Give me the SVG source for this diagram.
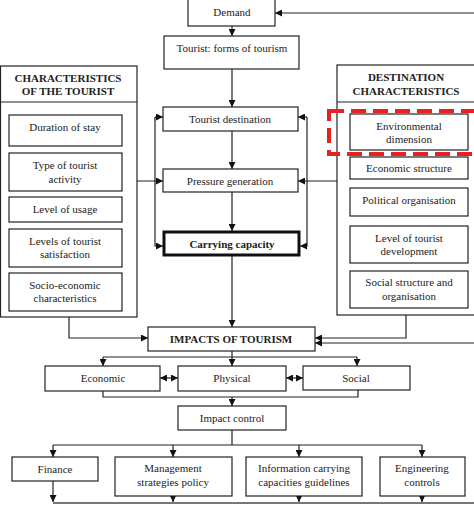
<svg xmlns="http://www.w3.org/2000/svg" width="474" height="505" viewBox="0 0 474 505">
<style>
.b{fill:#fff;stroke:#222;stroke-width:1.2}
.t{font-family:"Liberation Serif","Times New Roman",serif;font-size:11px;fill:#222;text-anchor:middle}
.h{font-weight:bold}
.l{fill:none;stroke:#222;stroke-width:1.2}
.a{marker-end:url(#ar)}
</style>
<defs>
<marker id="ar" viewBox="0 0 8 8" refX="8" refY="4" markerWidth="7" markerHeight="7" markerUnits="userSpaceOnUse" orient="auto-start-reverse">
<path d="M0,0 L8,4 L0,8 z" fill="#111"/>
</marker>
</defs>
<rect width="474" height="505" fill="#fff"/>
<g id="connectors">
<path class="l a" d="M232,26 V36"/>
<path class="l a" d="M232,69 V107"/>
<path class="l a" d="M232,131 V169"/>
<path class="l a" d="M232,192 V231"/>
<path class="l a" d="M232,256 V327"/>
<path class="l" d="M122,131 H129 M122,172 H129 M122,210 H129 M122,248 H129 M122,291 H129 M129,131 V291"/>
<path class="l a" d="M129,181 H163"/>
<path class="l a" d="M155,117 H163"/>
<path class="l a" d="M155,117 V246 H163"/>
<path class="l" d="M350,131 H342 M350,168 H342 M350,202 H342 M350,244 H342 M350,290 H342 M342,131 V290"/>
<path class="l a" d="M342,181 H298"/>
<path class="l a" d="M307,117 H298"/>
<path class="l a" d="M307,117 V246 H300"/>
<path class="l a" d="M69,317 V338 H148"/>
<path class="l a" d="M406,315 V338 H315"/>
<path class="l a" d="M477,343 H315"/>
<path class="l a" d="M477,343 V13 H275"/>
<path fill="none" stroke="#777" stroke-width="2" d="M53,503 H477 V343"/>
<path class="l" d="M103,357 H357 M232,351 V357"/>
<path class="l a" d="M103,357 V366"/>
<path class="l a" d="M232,357 V366"/>
<path class="l a" d="M357,357 V366"/>
<path class="l a" d="M160,378 H178" marker-start="url(#ar)"/>
<path class="l a" d="M286,378 H303" marker-start="url(#ar)"/>
<path class="l" d="M103,391 V397 H358 V390"/>
<path class="l a" d="M232,397 V406"/>
<path class="l" d="M232,430 V445 M53,445 H422"/>
<path class="l a" d="M53,445 V457"/>
<path class="l a" d="M173,445 V457"/>
<path class="l a" d="M299,445 V457"/>
<path class="l a" d="M422,445 V457"/>
<path class="l a" d="M53,481 V502"/>
<path class="l a" d="M173,496 V502"/>
<path class="l a" d="M299,496 V502"/>
<path class="l a" d="M422,496 V502"/>
</g>
<g id="demand"><rect class="b" x="188" y="-2" width="87" height="28"/><text class="t" x="232" y="16">Demand</text></g>
<g id="tourist-forms"><rect class="b" x="164" y="36" width="135" height="33"/><text class="t" x="232" y="52">Tourist: forms of tourism</text></g>
<g id="char-tourist">
<rect class="b" x="0.5" y="66" width="136.5" height="251"/>
<line class="l" x1="0" y1="102" x2="137" y2="102"/>
<text class="t h" x="68" y="82">CHARACTERISTICS</text>
<text class="t h" x="68" y="95">OF THE TOURIST</text>
</g>
<g id="duration"><rect class="b" x="9" y="115" width="113" height="31"/><text class="t" x="65" y="131">Duration of stay</text></g>
<g id="type-activity"><rect class="b" x="9" y="153" width="113" height="38"/><text class="t" x="65" y="169">Type of tourist</text><text class="t" x="65" y="183">activity</text></g>
<g id="level-usage"><rect class="b" x="9" y="197" width="113" height="25"/><text class="t" x="65" y="213">Level of usage</text></g>
<g id="satisfaction"><rect class="b" x="9" y="229" width="113" height="38"/><text class="t" x="65" y="245">Levels of tourist</text><text class="t" x="65" y="258">satisfaction</text></g>
<g id="socio-economic"><rect class="b" x="9" y="273" width="113" height="38"/><text class="t" x="65" y="289">Socio-economic</text><text class="t" x="65" y="302">characteristics</text></g>
<g id="tourist-destination"><rect class="b" x="163" y="107" width="135" height="24"/><text class="t" x="230" y="123">Tourist destination</text></g>
<g id="pressure"><rect class="b" x="163" y="169" width="135" height="23"/><text class="t" x="230" y="185">Pressure generation</text></g>
<g id="carrying"><rect x="164" y="232" width="135" height="23" fill="#fff" stroke="#111" stroke-width="3"/><text class="t h" x="232" y="248">Carrying capacity</text></g>
<g id="dest-char">
<rect class="b" x="337" y="65" width="145" height="250"/>
<line class="l" x1="337" y1="102" x2="482" y2="102"/>
<text class="t h" x="406" y="81">DESTINATION</text>
<text class="t h" x="406" y="95">CHARACTERISTICS</text>
</g>
<g id="environmental"><rect class="b" x="350" y="114" width="118" height="36"/><text class="t" x="409" y="130">Environmental</text><text class="t" x="409" y="143">dimension</text></g>
<g id="economic-structure"><rect class="b" x="350" y="157" width="118" height="22"/><text class="t" x="409" y="172">Economic structure</text></g>
<g id="political"><rect class="b" x="350" y="188" width="118" height="28"/><text class="t" x="409" y="204">Political organisation</text></g>
<g id="tourist-development"><rect class="b" x="350" y="226" width="118" height="37"/><text class="t" x="409" y="242">Level of tourist</text><text class="t" x="409" y="255">development</text></g>
<g id="social-structure"><rect class="b" x="350" y="271" width="118" height="37"/><text class="t" x="409" y="286">Social structure and</text><text class="t" x="409" y="300">organisation</text></g>
<g id="highlight"><rect x="329" y="111" width="160" height="43" fill="none" stroke="#e82020" stroke-width="4" stroke-dasharray="15 7"/></g>
<g id="impacts"><rect class="b" x="148" y="327" width="167" height="24"/><text class="t h" x="231" y="343">IMPACTS OF TOURISM</text></g>
<g id="economic"><rect class="b" x="45" y="366" width="115" height="25"/><text class="t" x="103" y="382">Economic</text></g>
<g id="physical"><rect class="b" x="178" y="366" width="108" height="25"/><text class="t" x="232" y="382">Physical</text></g>
<g id="social"><rect class="b" x="303" y="366" width="107" height="24"/><text class="t" x="356" y="382">Social</text></g>
<g id="impact-control"><rect class="b" x="178" y="406" width="108" height="24"/><text class="t" x="232" y="422">Impact control</text></g>
<g id="finance"><rect class="b" x="12" y="457" width="86" height="24"/><text class="t" x="55" y="473">Finance</text></g>
<g id="management"><rect class="b" x="115" y="457" width="117" height="39"/><text class="t" x="173" y="472">Management</text><text class="t" x="173" y="486">strategies policy</text></g>
<g id="information"><rect class="b" x="246" y="457" width="116" height="39"/><text class="t" x="304" y="472">Information carrying</text><text class="t" x="304" y="486">capacities guidelines</text></g>
<g id="engineering"><rect class="b" x="380" y="457" width="85" height="39"/><text class="t" x="422" y="472">Engineering</text><text class="t" x="422" y="486">controls</text></g>
</svg>
